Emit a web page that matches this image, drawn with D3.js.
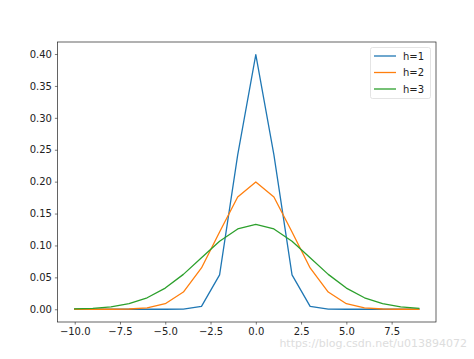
<!DOCTYPE html>
<html><head><meta charset="utf-8">
<script src="https://cdn.jsdelivr.net/npm/d3@7"></script>
<style>body{margin:0;background:#fff}svg{display:block;font-family:"DejaVu Sans",sans-serif}</style>
</head><body><svg id="c" width="474" height="359"></svg>
<script>
const xs = [-10,-9,-8,-7,-6,-5,-4,-3,-2,-1,0,1,2,3,4,5,6,7,8,9];
const h1 = [0,0,0,0,0,0.0000015,0.000134,0.00443,0.0540,0.2420,0.3989,0.2420,0.0540,0.00443,0.000134,0.0000015,0,0,0,0];
const h2 = [0.0000007,0.000008,0.0000669,0.000436,0.00222,0.00876,0.0270,0.0648,0.1210,0.1760,0.1995,0.1760,0.1210,0.0648,0.0270,0.00876,0.00222,0.000436,0.0000669,0.000008];
const h3 = [0.000514,0.00148,0.00380,0.00874,0.0180,0.0332,0.0547,0.0807,0.1065,0.1258,0.1330,0.1258,0.1065,0.0807,0.0547,0.0332,0.0180,0.00874,0.00380,0.00148];
const seriesNames = ["h=1","h=2","h=3"];
const colors = ["#1f77b4","#ff7f0e","#2ca02c"];
const xTicks = [-10,-7.5,-5,-2.5,0,2.5,5,7.5];
const yTicks = [0,0.05,0.10,0.15,0.20,0.25,0.30,0.35,0.40];

const svg = d3.select("#c");
const L=57.5,R=436,T=42,B=322;
const x = d3.scaleLinear().domain([-10.95,9.95]).range([L,R]);
const y = d3.scaleLinear().domain([-0.01995,0.41884]).range([B,T]);

const series=[h1,h2,h3];
const line = d3.line().x((d,i)=>x(xs[i])).y(d=>y(d));
series.forEach((s,k)=>{
  svg.append("path").attr("d",line(s)).attr("fill","none").attr("stroke",colors[k]).attr("stroke-width",1.3).attr("stroke-linejoin","round").attr("stroke-linecap","square");
});

const xa = svg.append("g").attr("transform",`translate(0,${B})`).call(d3.axisBottom(x).tickValues(xTicks).tickFormat(d3.format(".1f")).tickSize(2.6).tickPadding(3));
const ya = svg.append("g").attr("transform",`translate(${L},0)`).call(d3.axisLeft(y).tickValues(yTicks).tickFormat(d3.format(".2f")).tickSize(2.6).tickPadding(3));
[xa,ya].forEach(a=>{a.select(".domain").remove();a.selectAll("text").attr("font-size",10).attr("fill","#222").attr("font-family","DejaVu Sans");a.selectAll("line").attr("stroke","#222").attr("stroke-width",0.6);});
xa.selectAll("text").text(d=>d3.format(".1f")(d).replace("-","\u2212"));

svg.append("rect").attr("x",L).attr("y",T).attr("width",R-L).attr("height",B-T).attr("fill","none").attr("stroke","#222").attr("stroke-width",0.7);

const lg = svg.append("g");
lg.append("rect").attr("x",370.5).attr("y",47.5).attr("width",60).attr("height",51).attr("rx",2).attr("fill","#fff").attr("stroke","#ddd").attr("stroke-width",0.8);
seriesNames.forEach((n,k)=>{
  const yy = 56+k*16.5;
  lg.append("line").attr("x1",374).attr("x2",396).attr("y1",yy).attr("y2",yy).attr("stroke",colors[k]).attr("stroke-width",1.3);
  lg.append("text").attr("x",403).attr("y",yy+3.6).attr("font-size",10).attr("fill","#222").text(n);
});

svg.append("text").attr("x",467).attr("y",347).attr("text-anchor","end").attr("font-size",11).attr("fill","#ddd").text("https://blog.csdn.net/u013894072");
</script></body></html>
